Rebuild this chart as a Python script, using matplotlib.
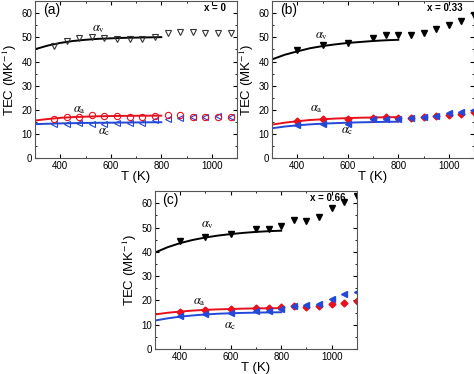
import matplotlib.pyplot as plt

plt.rcParams['font.family'] = ['Liberation Sans', 'DejaVu Sans']
plt.rcParams['mathtext.fontset'] = 'stix'

# measured points
T_a = [375, 425, 475, 525, 575, 625, 675, 725, 775, 825, 875, 925, 975, 1025, 1075]
av_a = [46.4, 48.4, 49.9, 50.3, 49.6, 49.4, 49.2, 49.2, 50.1, 51.9, 52.2, 52.2, 51.8, 51.8, 51.9]
aa_a = [16.1, 17.0, 17.2, 17.8, 17.6, 17.4, 17.2, 17.2, 17.4, 17.9, 17.8, 17.2, 17.1, 17.0, 17.2]
ac_a = [14.2, 14.3, 14.4, 14.3, 14.2, 14.6, 14.6, 14.4, 15.8, 16.1, 16.5, 17.2, 17.1, 17.3, 17.2]

T_b = [400, 500, 600, 700, 750, 800, 850, 900, 950, 1000, 1050, 1100]
av_b = [44.8, 46.7, 47.8, 49.8, 51.1, 50.8, 50.8, 51.8, 53.4, 55.1, 56.6, 59.3]
aa_b = [15.4, 16.1, 16.4, 16.8, 17.0, 16.8, 16.5, 17.0, 17.4, 17.8, 18.3, 19.0]
ac_b = [13.6, 14.0, 14.2, 16.1, 16.1, 16.1, 16.5, 17.0, 17.6, 18.5, 19.2, 19.9]

T_c = [400, 500, 600, 700, 750, 800, 850, 900, 950, 1000, 1050, 1100]
av_c = [44.4, 46.0, 47.4, 49.3, 49.3, 50.8, 53.0, 52.8, 54.3, 58.2, 60.7, 62.9]
aa_c = [15.4, 16.1, 16.5, 16.8, 16.8, 17.2, 17.6, 17.2, 17.6, 18.6, 19.0, 19.7]
ac_c = [13.5, 14.2, 14.6, 15.8, 15.8, 16.5, 17.6, 17.9, 18.6, 20.7, 22.7, 23.3]

# fitted curves
T_fit = [300, 350, 400, 450, 500, 550, 600, 650, 700, 750, 800]
fv_a = [45.1, 46.6, 47.7, 48.5, 49.0, 49.4, 49.6, 49.8, 49.9, 50.0, 50.1]
fa_a = [15.6, 16.2, 16.7, 17.0, 17.2, 17.35, 17.45, 17.5, 17.55, 17.6, 17.6]
fc_a = [14.1, 14.25, 14.4, 14.5, 14.6, 14.65, 14.7, 14.75, 14.8, 14.85, 14.9]
fv_b = [40.9, 42.8, 44.2, 45.5, 46.4, 47.1, 47.7, 48.1, 48.5, 48.8, 49.0]
fa_b = [13.9, 14.7, 15.3, 15.8, 16.1, 16.4, 16.6, 16.75, 16.85, 16.95, 17.0]
fc_b = [12.4, 13.1, 13.6, 14.0, 14.3, 14.5, 14.7, 14.85, 14.95, 15.05, 15.1]
fv_c = [39.7, 41.9, 43.6, 44.9, 45.9, 46.7, 47.3, 47.8, 48.2, 48.5, 48.7]
fa_c = [14.2, 14.9, 15.4, 15.8, 16.1, 16.3, 16.45, 16.6, 16.7, 16.75, 16.8]
fc_c = [11.7, 12.6, 13.3, 13.8, 14.2, 14.5, 14.7, 14.85, 14.95, 15.05, 15.1]

RED = '#e8101c'
BLUE = '#2448d8'

fig = plt.figure(figsize=(4.74, 3.74), dpi=100)
ax_a = fig.add_axes([0.074, 0.577, 0.426, 0.42])
ax_b = fig.add_axes([0.574, 0.577, 0.426, 0.42])
ax_c = fig.add_axes([0.327, 0.067, 0.426, 0.422])

panels = [
    (ax_a, '(a)', 'x = 0', T_a, av_a, aa_a, ac_a, fv_a, fa_a, fc_a, True,
     [(527, 52.5), (450, 19.0), (548, 10.0)]),
    (ax_b, '(b)', 'x = 0.33', T_b, av_b, aa_b, ac_b, fv_b, fa_b, fc_b, False,
     [(470, 49.5), (452, 19.6), (572, 10.3)]),
    (ax_c, '(c)', 'x = 0.66', T_c, av_c, aa_c, ac_c, fv_c, fa_c, fc_c, False,
     [(484, 50.0), (452, 18.4), (572, 8.5)]),
]

for (ax, tag, comp, T, av, aa, ac, fv, fa, fc, hollow, lbl) in panels:
    ax.plot(T_fit, fv, color='black', lw=1.4, zorder=2)
    ax.plot(T_fit, fa, color=RED, lw=1.4, zorder=2)
    ax.plot(T_fit, fc, color=BLUE, lw=1.4, zorder=2)
    if hollow:
        ax.plot(T, av, 'v', ms=4.5, mfc='none', mec='#333333', mew=0.8, ls='none')
        ax.plot(T, ac, '<', ms=4.5, mfc='none', mec=BLUE, mew=0.8, ls='none')
        ax.plot(T, aa, 'o', ms=4.5, mfc='none', mec=RED, mew=0.8, ls='none')
    else:
        ax.plot(T, av, 'v', ms=4.5, color='black', ls='none')
        ax.plot(T, aa, 'D', ms=3.5, color=RED, ls='none')
        ax.plot(T, ac, '<', ms=4.5, color=BLUE, ls='none')

    ax.text(lbl[0][0], lbl[0][1], r'$\alpha_\mathrm{v}$', fontsize=9)
    ax.text(lbl[1][0], lbl[1][1], r'$\alpha_\mathrm{a}$', fontsize=9)
    ax.text(lbl[2][0], lbl[2][1], r'$\alpha_\mathrm{c}$', fontsize=9)
    ax.text(330, 59.5, tag, fontsize=10)
    ax.text(1055, 61.0, comp, fontsize=7, fontweight='bold', ha='right')

    ax.set_xlim(300, 1100)
    ax.set_ylim(0, 65)
    ax.set_xticks([400, 600, 800, 1000])
    ax.set_xticks([300, 500, 700, 900, 1100], minor=True)
    ax.set_yticks(range(0, 61, 10))
    ax.set_yticks(range(5, 65, 10), minor=True)
    ax.tick_params(which='both', direction='in', top=True, right=True, labelsize=7, pad=2)
    ax.tick_params(which='major', length=3)
    ax.tick_params(which='minor', length=1.5)
    ax.set_xlabel('T (K)', fontsize=9.5, labelpad=0)
    ax.set_ylabel(r'TEC (MK$^{-1}$)', fontsize=9.5, labelpad=2)
    for s in ax.spines.values():
        s.set_color('#555555')
        s.set_linewidth(0.8)

fig.savefig('out.png', dpi=100)
